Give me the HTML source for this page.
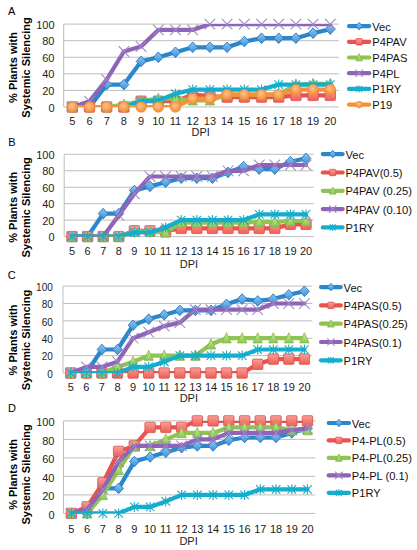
<!DOCTYPE html>
<html><head><meta charset="utf-8"><style>html,body{margin:0;padding:0;background:#fff;width:417px;height:550px;overflow:hidden}svg{display:block}</style></head>
<body><svg width="417" height="550" viewBox="0 0 417 550">
<rect width="417" height="550" fill="#fff"/>
<defs><linearGradient id="g_blue" x1="0" y1="0" x2="0" y2="1"><stop offset="0" stop-color="#8cc6f3"/><stop offset="1" stop-color="#3d92d8"/></linearGradient><radialGradient id="r_blue" cx="0.45" cy="0.4" r="0.6"><stop offset="0" stop-color="#8cc6f3"/><stop offset="1" stop-color="#3d92d8"/></radialGradient><linearGradient id="g_red" x1="0" y1="0" x2="0" y2="1"><stop offset="0" stop-color="#f8a09a"/><stop offset="1" stop-color="#ee5d55"/></linearGradient><radialGradient id="r_red" cx="0.45" cy="0.4" r="0.6"><stop offset="0" stop-color="#f8a09a"/><stop offset="1" stop-color="#ee5d55"/></radialGradient><linearGradient id="g_green" x1="0" y1="0" x2="0" y2="1"><stop offset="0" stop-color="#c9ec9c"/><stop offset="1" stop-color="#8dc652"/></linearGradient><radialGradient id="r_green" cx="0.45" cy="0.4" r="0.6"><stop offset="0" stop-color="#c9ec9c"/><stop offset="1" stop-color="#8dc652"/></radialGradient><linearGradient id="g_purple" x1="0" y1="0" x2="0" y2="1"><stop offset="0" stop-color="#a584c8"/><stop offset="1" stop-color="#8a5fb0"/></linearGradient><radialGradient id="r_purple" cx="0.45" cy="0.4" r="0.6"><stop offset="0" stop-color="#a584c8"/><stop offset="1" stop-color="#8a5fb0"/></radialGradient><linearGradient id="g_cyan" x1="0" y1="0" x2="0" y2="1"><stop offset="0" stop-color="#50c4dc"/><stop offset="1" stop-color="#14adcd"/></linearGradient><radialGradient id="r_cyan" cx="0.45" cy="0.4" r="0.6"><stop offset="0" stop-color="#50c4dc"/><stop offset="1" stop-color="#14adcd"/></radialGradient><linearGradient id="g_orange" x1="0" y1="0" x2="0" y2="1"><stop offset="0" stop-color="#fcc48c"/><stop offset="1" stop-color="#f58a32"/></linearGradient><radialGradient id="r_orange" cx="0.45" cy="0.4" r="0.6"><stop offset="0" stop-color="#fcc48c"/><stop offset="1" stop-color="#f58a32"/></radialGradient></defs>
<text x="8.0" y="14.5" font-size="11" font-family="Liberation Sans, sans-serif">A</text>
<g transform="translate(16.9,67.5) rotate(-90)"><text x="0" y="0" text-anchor="middle" font-size="11" font-weight="bold" font-family="Liberation Sans, sans-serif">% Plants with</text></g>
<g transform="translate(30.2,67.5) rotate(-90)"><text x="0" y="0" text-anchor="middle" font-size="11" font-weight="bold" font-family="Liberation Sans, sans-serif">Systemic Silencing</text></g>
<line x1="63.7" y1="107.00" x2="338.9" y2="107.00" stroke="#bdbdbd" stroke-width="1"/>
<text x="54.5" y="111.50" text-anchor="end" font-size="11" font-family="Liberation Sans, sans-serif" fill="#1c1c1c">0</text>
<line x1="63.7" y1="90.42" x2="338.9" y2="90.42" stroke="#bdbdbd" stroke-width="1"/>
<text x="54.5" y="94.92" text-anchor="end" font-size="11" font-family="Liberation Sans, sans-serif" fill="#1c1c1c">20</text>
<line x1="63.7" y1="73.84" x2="338.9" y2="73.84" stroke="#bdbdbd" stroke-width="1"/>
<text x="54.5" y="78.34" text-anchor="end" font-size="11" font-family="Liberation Sans, sans-serif" fill="#1c1c1c">40</text>
<line x1="63.7" y1="57.26" x2="338.9" y2="57.26" stroke="#bdbdbd" stroke-width="1"/>
<text x="54.5" y="61.76" text-anchor="end" font-size="11" font-family="Liberation Sans, sans-serif" fill="#1c1c1c">60</text>
<line x1="63.7" y1="40.68" x2="338.9" y2="40.68" stroke="#bdbdbd" stroke-width="1"/>
<text x="54.5" y="45.18" text-anchor="end" font-size="11" font-family="Liberation Sans, sans-serif" fill="#1c1c1c">80</text>
<line x1="63.7" y1="24.10" x2="338.9" y2="24.10" stroke="#bdbdbd" stroke-width="1"/>
<text x="54.5" y="28.60" text-anchor="end" font-size="11" font-family="Liberation Sans, sans-serif" fill="#1c1c1c">100</text>
<line x1="63.7" y1="24.10" x2="63.7" y2="107.00" stroke="#bdbdbd" stroke-width="1"/>
<text x="72.3" y="125.4" text-anchor="middle" font-size="11" font-family="Liberation Sans, sans-serif" fill="#1c1c1c">5</text>
<text x="89.5" y="125.4" text-anchor="middle" font-size="11" font-family="Liberation Sans, sans-serif" fill="#1c1c1c">6</text>
<text x="106.7" y="125.4" text-anchor="middle" font-size="11" font-family="Liberation Sans, sans-serif" fill="#1c1c1c">7</text>
<text x="123.9" y="125.4" text-anchor="middle" font-size="11" font-family="Liberation Sans, sans-serif" fill="#1c1c1c">8</text>
<text x="141.1" y="125.4" text-anchor="middle" font-size="11" font-family="Liberation Sans, sans-serif" fill="#1c1c1c">9</text>
<text x="158.3" y="125.4" text-anchor="middle" font-size="11" font-family="Liberation Sans, sans-serif" fill="#1c1c1c">10</text>
<text x="175.5" y="125.4" text-anchor="middle" font-size="11" font-family="Liberation Sans, sans-serif" fill="#1c1c1c">11</text>
<text x="192.7" y="125.4" text-anchor="middle" font-size="11" font-family="Liberation Sans, sans-serif" fill="#1c1c1c">12</text>
<text x="209.9" y="125.4" text-anchor="middle" font-size="11" font-family="Liberation Sans, sans-serif" fill="#1c1c1c">13</text>
<text x="227.1" y="125.4" text-anchor="middle" font-size="11" font-family="Liberation Sans, sans-serif" fill="#1c1c1c">14</text>
<text x="244.3" y="125.4" text-anchor="middle" font-size="11" font-family="Liberation Sans, sans-serif" fill="#1c1c1c">15</text>
<text x="261.5" y="125.4" text-anchor="middle" font-size="11" font-family="Liberation Sans, sans-serif" fill="#1c1c1c">16</text>
<text x="278.7" y="125.4" text-anchor="middle" font-size="11" font-family="Liberation Sans, sans-serif" fill="#1c1c1c">17</text>
<text x="295.9" y="125.4" text-anchor="middle" font-size="11" font-family="Liberation Sans, sans-serif" fill="#1c1c1c">18</text>
<text x="313.1" y="125.4" text-anchor="middle" font-size="11" font-family="Liberation Sans, sans-serif" fill="#1c1c1c">19</text>
<text x="330.3" y="125.4" text-anchor="middle" font-size="11" font-family="Liberation Sans, sans-serif" fill="#1c1c1c">20</text>
<text x="200.7" y="135.7" text-anchor="middle" font-size="11" font-family="Liberation Sans, sans-serif" fill="#1c1c1c">DPI</text>
<clipPath id="clipA"><rect x="63.7" y="24.1" width="275.2" height="82.9"/></clipPath>
<polyline clip-path="url(#clipA)" points="72.3,107.0 89.5,107.0 106.7,84.6 123.9,84.6 141.1,61.4 158.3,57.3 175.5,52.3 192.7,47.3 209.9,47.3 227.1,47.3 244.3,41.5 261.5,38.2 278.7,38.2 295.9,38.2 313.1,33.2 330.3,29.1" fill="none" stroke="#2a87cb" stroke-width="4.2" stroke-linejoin="round" stroke-linecap="round"/>
<path d="M72.3 101.7L77.2 107.0L72.3 112.3L67.4 107.0Z" fill="url(#g_blue)" stroke="#2576bc" stroke-width="0.9"/>
<path d="M89.5 101.7L94.4 107.0L89.5 112.3L84.6 107.0Z" fill="url(#g_blue)" stroke="#2576bc" stroke-width="0.9"/>
<path d="M106.7 79.3L111.6 84.6L106.7 89.9L101.8 84.6Z" fill="url(#g_blue)" stroke="#2576bc" stroke-width="0.9"/>
<path d="M123.9 79.3L128.8 84.6L123.9 89.9L119.0 84.6Z" fill="url(#g_blue)" stroke="#2576bc" stroke-width="0.9"/>
<path d="M141.1 56.1L146.0 61.4L141.1 66.7L136.2 61.4Z" fill="url(#g_blue)" stroke="#2576bc" stroke-width="0.9"/>
<path d="M158.3 52.0L163.2 57.3L158.3 62.6L153.4 57.3Z" fill="url(#g_blue)" stroke="#2576bc" stroke-width="0.9"/>
<path d="M175.5 47.0L180.4 52.3L175.5 57.6L170.6 52.3Z" fill="url(#g_blue)" stroke="#2576bc" stroke-width="0.9"/>
<path d="M192.7 42.0L197.6 47.3L192.7 52.6L187.8 47.3Z" fill="url(#g_blue)" stroke="#2576bc" stroke-width="0.9"/>
<path d="M209.9 42.0L214.8 47.3L209.9 52.6L205.0 47.3Z" fill="url(#g_blue)" stroke="#2576bc" stroke-width="0.9"/>
<path d="M227.1 42.0L232.0 47.3L227.1 52.6L222.2 47.3Z" fill="url(#g_blue)" stroke="#2576bc" stroke-width="0.9"/>
<path d="M244.3 36.2L249.2 41.5L244.3 46.8L239.4 41.5Z" fill="url(#g_blue)" stroke="#2576bc" stroke-width="0.9"/>
<path d="M261.5 32.9L266.4 38.2L261.5 43.5L256.6 38.2Z" fill="url(#g_blue)" stroke="#2576bc" stroke-width="0.9"/>
<path d="M278.7 32.9L283.6 38.2L278.7 43.5L273.8 38.2Z" fill="url(#g_blue)" stroke="#2576bc" stroke-width="0.9"/>
<path d="M295.9 32.9L300.8 38.2L295.9 43.5L291.0 38.2Z" fill="url(#g_blue)" stroke="#2576bc" stroke-width="0.9"/>
<path d="M313.1 27.9L318.0 33.2L313.1 38.5L308.2 33.2Z" fill="url(#g_blue)" stroke="#2576bc" stroke-width="0.9"/>
<path d="M330.3 23.8L335.2 29.1L330.3 34.4L325.4 29.1Z" fill="url(#g_blue)" stroke="#2576bc" stroke-width="0.9"/>
<polyline clip-path="url(#clipA)" points="72.3,107.0 89.5,107.0 106.7,107.0 123.9,107.0 141.1,101.2 158.3,101.2 175.5,101.2 192.7,94.6 209.9,96.2 227.1,97.1 244.3,97.1 261.5,97.1 278.7,97.1 295.9,95.4 313.1,95.4 330.3,95.4" fill="none" stroke="#e8544d" stroke-width="4.2" stroke-linejoin="round" stroke-linecap="round"/>
<rect x="67.1" y="101.8" width="10.4" height="10.4" rx="1" fill="url(#g_red)" stroke="#e04d47" stroke-width="0.8"/>
<rect x="84.3" y="101.8" width="10.4" height="10.4" rx="1" fill="url(#g_red)" stroke="#e04d47" stroke-width="0.8"/>
<rect x="101.5" y="101.8" width="10.4" height="10.4" rx="1" fill="url(#g_red)" stroke="#e04d47" stroke-width="0.8"/>
<rect x="118.7" y="101.8" width="10.4" height="10.4" rx="1" fill="url(#g_red)" stroke="#e04d47" stroke-width="0.8"/>
<rect x="135.9" y="96.0" width="10.4" height="10.4" rx="1" fill="url(#g_red)" stroke="#e04d47" stroke-width="0.8"/>
<rect x="153.1" y="96.0" width="10.4" height="10.4" rx="1" fill="url(#g_red)" stroke="#e04d47" stroke-width="0.8"/>
<rect x="170.3" y="96.0" width="10.4" height="10.4" rx="1" fill="url(#g_red)" stroke="#e04d47" stroke-width="0.8"/>
<rect x="187.5" y="89.4" width="10.4" height="10.4" rx="1" fill="url(#g_red)" stroke="#e04d47" stroke-width="0.8"/>
<rect x="204.7" y="91.0" width="10.4" height="10.4" rx="1" fill="url(#g_red)" stroke="#e04d47" stroke-width="0.8"/>
<rect x="221.9" y="91.9" width="10.4" height="10.4" rx="1" fill="url(#g_red)" stroke="#e04d47" stroke-width="0.8"/>
<rect x="239.1" y="91.9" width="10.4" height="10.4" rx="1" fill="url(#g_red)" stroke="#e04d47" stroke-width="0.8"/>
<rect x="256.3" y="91.9" width="10.4" height="10.4" rx="1" fill="url(#g_red)" stroke="#e04d47" stroke-width="0.8"/>
<rect x="273.5" y="91.9" width="10.4" height="10.4" rx="1" fill="url(#g_red)" stroke="#e04d47" stroke-width="0.8"/>
<rect x="290.7" y="90.2" width="10.4" height="10.4" rx="1" fill="url(#g_red)" stroke="#e04d47" stroke-width="0.8"/>
<rect x="307.9" y="90.2" width="10.4" height="10.4" rx="1" fill="url(#g_red)" stroke="#e04d47" stroke-width="0.8"/>
<rect x="325.1" y="90.2" width="10.4" height="10.4" rx="1" fill="url(#g_red)" stroke="#e04d47" stroke-width="0.8"/>
<polyline clip-path="url(#clipA)" points="72.3,107.0 89.5,107.0 106.7,107.0 123.9,104.5 141.1,101.2 158.3,98.7 175.5,98.7 192.7,100.4 209.9,100.4 227.1,94.6 244.3,94.6 261.5,94.6 278.7,94.6 295.9,84.6 313.1,83.8 330.3,83.8" fill="none" stroke="#8fc453" stroke-width="4.2" stroke-linejoin="round" stroke-linecap="round"/>
<path d="M72.3 101.5L77.0 111.7L67.6 111.7Z" fill="url(#g_green)" stroke="#80b847" stroke-width="0.8"/>
<path d="M89.5 101.5L94.2 111.7L84.8 111.7Z" fill="url(#g_green)" stroke="#80b847" stroke-width="0.8"/>
<path d="M106.7 101.5L111.4 111.7L102.0 111.7Z" fill="url(#g_green)" stroke="#80b847" stroke-width="0.8"/>
<path d="M123.9 99.0L128.6 109.2L119.2 109.2Z" fill="url(#g_green)" stroke="#80b847" stroke-width="0.8"/>
<path d="M141.1 95.7L145.8 105.9L136.4 105.9Z" fill="url(#g_green)" stroke="#80b847" stroke-width="0.8"/>
<path d="M158.3 93.2L163.0 103.4L153.6 103.4Z" fill="url(#g_green)" stroke="#80b847" stroke-width="0.8"/>
<path d="M175.5 93.2L180.2 103.4L170.8 103.4Z" fill="url(#g_green)" stroke="#80b847" stroke-width="0.8"/>
<path d="M192.7 94.9L197.4 105.0L188.0 105.0Z" fill="url(#g_green)" stroke="#80b847" stroke-width="0.8"/>
<path d="M209.9 94.9L214.6 105.0L205.2 105.0Z" fill="url(#g_green)" stroke="#80b847" stroke-width="0.8"/>
<path d="M227.1 89.1L231.8 99.2L222.4 99.2Z" fill="url(#g_green)" stroke="#80b847" stroke-width="0.8"/>
<path d="M244.3 89.1L249.0 99.2L239.6 99.2Z" fill="url(#g_green)" stroke="#80b847" stroke-width="0.8"/>
<path d="M261.5 89.1L266.2 99.2L256.8 99.2Z" fill="url(#g_green)" stroke="#80b847" stroke-width="0.8"/>
<path d="M278.7 89.1L283.4 99.2L274.0 99.2Z" fill="url(#g_green)" stroke="#80b847" stroke-width="0.8"/>
<path d="M295.9 79.1L300.6 89.3L291.2 89.3Z" fill="url(#g_green)" stroke="#80b847" stroke-width="0.8"/>
<path d="M313.1 78.3L317.8 88.5L308.4 88.5Z" fill="url(#g_green)" stroke="#80b847" stroke-width="0.8"/>
<path d="M330.3 78.3L335.0 88.5L325.6 88.5Z" fill="url(#g_green)" stroke="#80b847" stroke-width="0.8"/>
<polyline clip-path="url(#clipA)" points="72.3,107.0 89.5,101.2 106.7,79.6 123.9,51.5 141.1,46.5 158.3,29.9 175.5,29.9 192.7,29.9 209.9,24.1 227.1,24.1 244.3,24.1 261.5,24.1 278.7,24.1 295.9,24.1 313.1,24.1 330.3,24.1" fill="none" stroke="#8e64b6" stroke-width="4.2" stroke-linejoin="round" stroke-linecap="round"/>
<path d="M67.0 101.7L77.6 112.3M77.6 101.7L67.0 112.3" stroke="#9e86c6" stroke-width="1.05" fill="none"/>
<path d="M84.2 95.9L94.8 106.5M94.8 95.9L84.2 106.5" stroke="#9e86c6" stroke-width="1.05" fill="none"/>
<path d="M101.4 74.3L112.0 84.9M112.0 74.3L101.4 84.9" stroke="#9e86c6" stroke-width="1.05" fill="none"/>
<path d="M118.6 46.2L129.2 56.8M129.2 46.2L118.6 56.8" stroke="#9e86c6" stroke-width="1.05" fill="none"/>
<path d="M135.8 41.2L146.4 51.8M146.4 41.2L135.8 51.8" stroke="#9e86c6" stroke-width="1.05" fill="none"/>
<path d="M153.0 24.6L163.6 35.2M163.6 24.6L153.0 35.2" stroke="#9e86c6" stroke-width="1.05" fill="none"/>
<path d="M170.2 24.6L180.8 35.2M180.8 24.6L170.2 35.2" stroke="#9e86c6" stroke-width="1.05" fill="none"/>
<path d="M187.4 24.6L198.0 35.2M198.0 24.6L187.4 35.2" stroke="#9e86c6" stroke-width="1.05" fill="none"/>
<path d="M204.6 18.8L215.2 29.4M215.2 18.8L204.6 29.4" stroke="#9e86c6" stroke-width="1.05" fill="none"/>
<path d="M221.8 18.8L232.4 29.4M232.4 18.8L221.8 29.4" stroke="#9e86c6" stroke-width="1.05" fill="none"/>
<path d="M239.0 18.8L249.6 29.4M249.6 18.8L239.0 29.4" stroke="#9e86c6" stroke-width="1.05" fill="none"/>
<path d="M256.2 18.8L266.8 29.4M266.8 18.8L256.2 29.4" stroke="#9e86c6" stroke-width="1.05" fill="none"/>
<path d="M273.4 18.8L284.0 29.4M284.0 18.8L273.4 29.4" stroke="#9e86c6" stroke-width="1.05" fill="none"/>
<path d="M290.6 18.8L301.2 29.4M301.2 18.8L290.6 29.4" stroke="#9e86c6" stroke-width="1.05" fill="none"/>
<path d="M307.8 18.8L318.4 29.4M318.4 18.8L307.8 29.4" stroke="#9e86c6" stroke-width="1.05" fill="none"/>
<path d="M325.0 18.8L335.6 29.4M335.6 18.8L325.0 29.4" stroke="#9e86c6" stroke-width="1.05" fill="none"/>
<polyline clip-path="url(#clipA)" points="72.3,107.0 89.5,107.0 106.7,107.0 123.9,107.0 141.1,101.2 158.3,100.4 175.5,93.7 192.7,89.6 209.9,89.6 227.1,89.6 244.3,89.6 261.5,89.6 278.7,84.6 295.9,84.6 313.1,84.6 330.3,84.6" fill="none" stroke="#14adcd" stroke-width="4.2" stroke-linejoin="round" stroke-linecap="round"/>
<path d="M68.0 102.8L76.5 111.2M76.5 102.8L68.0 111.2M72.3 102.0L72.3 112.0" stroke="#17acca" stroke-width="1.1" fill="none"/>
<path d="M85.2 102.8L93.8 111.2M93.8 102.8L85.2 111.2M89.5 102.0L89.5 112.0" stroke="#17acca" stroke-width="1.1" fill="none"/>
<path d="M102.5 102.8L111.0 111.2M111.0 102.8L102.5 111.2M106.7 102.0L106.7 112.0" stroke="#17acca" stroke-width="1.1" fill="none"/>
<path d="M119.7 102.8L128.2 111.2M128.2 102.8L119.7 111.2M123.9 102.0L123.9 112.0" stroke="#17acca" stroke-width="1.1" fill="none"/>
<path d="M136.8 96.9L145.3 105.4M145.3 96.9L136.8 105.4M141.1 96.2L141.1 106.2" stroke="#17acca" stroke-width="1.1" fill="none"/>
<path d="M154.1 96.1L162.6 104.6M162.6 96.1L154.1 104.6M158.3 95.4L158.3 105.4" stroke="#17acca" stroke-width="1.1" fill="none"/>
<path d="M171.2 89.5L179.8 98.0M179.8 89.5L171.2 98.0M175.5 88.7L175.5 98.7" stroke="#17acca" stroke-width="1.1" fill="none"/>
<path d="M188.4 85.3L196.9 93.8M196.9 85.3L188.4 93.8M192.7 84.6L192.7 94.6" stroke="#17acca" stroke-width="1.1" fill="none"/>
<path d="M205.6 85.3L214.1 93.8M214.1 85.3L205.6 93.8M209.9 84.6L209.9 94.6" stroke="#17acca" stroke-width="1.1" fill="none"/>
<path d="M222.9 85.3L231.4 93.8M231.4 85.3L222.9 93.8M227.1 84.6L227.1 94.6" stroke="#17acca" stroke-width="1.1" fill="none"/>
<path d="M240.1 85.3L248.6 93.8M248.6 85.3L240.1 93.8M244.3 84.6L244.3 94.6" stroke="#17acca" stroke-width="1.1" fill="none"/>
<path d="M257.2 85.3L265.8 93.8M265.8 85.3L257.2 93.8M261.5 84.6L261.5 94.6" stroke="#17acca" stroke-width="1.1" fill="none"/>
<path d="M274.4 80.4L282.9 88.9M282.9 80.4L274.4 88.9M278.7 79.6L278.7 89.6" stroke="#17acca" stroke-width="1.1" fill="none"/>
<path d="M291.6 80.4L300.1 88.9M300.1 80.4L291.6 88.9M295.9 79.6L295.9 89.6" stroke="#17acca" stroke-width="1.1" fill="none"/>
<path d="M308.8 80.4L317.3 88.9M317.3 80.4L308.8 88.9M313.1 79.6L313.1 89.6" stroke="#17acca" stroke-width="1.1" fill="none"/>
<path d="M326.0 80.4L334.5 88.9M334.5 80.4L326.0 88.9M330.3 79.6L330.3 89.6" stroke="#17acca" stroke-width="1.1" fill="none"/>
<polyline clip-path="url(#clipA)" points="72.3,107.0 89.5,107.0 106.7,107.0 123.9,107.0 141.1,107.0 158.3,107.0 175.5,107.0 192.7,98.7 209.9,98.7 227.1,94.6 244.3,94.6 261.5,94.6 278.7,94.6 295.9,89.6 313.1,89.6 330.3,89.6" fill="none" stroke="#f7903a" stroke-width="4.2" stroke-linejoin="round" stroke-linecap="round"/>
<circle cx="72.3" cy="107.0" r="5.3" fill="url(#r_orange)" stroke="#ee8a33" stroke-width="0.6"/>
<circle cx="89.5" cy="107.0" r="5.3" fill="url(#r_orange)" stroke="#ee8a33" stroke-width="0.6"/>
<circle cx="106.7" cy="107.0" r="5.3" fill="url(#r_orange)" stroke="#ee8a33" stroke-width="0.6"/>
<circle cx="123.9" cy="107.0" r="5.3" fill="url(#r_orange)" stroke="#ee8a33" stroke-width="0.6"/>
<circle cx="141.1" cy="107.0" r="5.3" fill="url(#r_orange)" stroke="#ee8a33" stroke-width="0.6"/>
<circle cx="158.3" cy="107.0" r="5.3" fill="url(#r_orange)" stroke="#ee8a33" stroke-width="0.6"/>
<circle cx="175.5" cy="107.0" r="5.3" fill="url(#r_orange)" stroke="#ee8a33" stroke-width="0.6"/>
<circle cx="192.7" cy="98.7" r="5.3" fill="url(#r_orange)" stroke="#ee8a33" stroke-width="0.6"/>
<circle cx="209.9" cy="98.7" r="5.3" fill="url(#r_orange)" stroke="#ee8a33" stroke-width="0.6"/>
<circle cx="227.1" cy="94.6" r="5.3" fill="url(#r_orange)" stroke="#ee8a33" stroke-width="0.6"/>
<circle cx="244.3" cy="94.6" r="5.3" fill="url(#r_orange)" stroke="#ee8a33" stroke-width="0.6"/>
<circle cx="261.5" cy="94.6" r="5.3" fill="url(#r_orange)" stroke="#ee8a33" stroke-width="0.6"/>
<circle cx="278.7" cy="94.6" r="5.3" fill="url(#r_orange)" stroke="#ee8a33" stroke-width="0.6"/>
<circle cx="295.9" cy="89.6" r="5.3" fill="url(#r_orange)" stroke="#ee8a33" stroke-width="0.6"/>
<circle cx="313.1" cy="89.6" r="5.3" fill="url(#r_orange)" stroke="#ee8a33" stroke-width="0.6"/>
<circle cx="330.3" cy="89.6" r="5.3" fill="url(#r_orange)" stroke="#ee8a33" stroke-width="0.6"/>
<line x1="349" y1="26.1" x2="369.3" y2="26.1" stroke="#2a87cb" stroke-width="4.2" stroke-linecap="round"/>
<path d="M359.1 22.4L362.6 26.1L359.1 29.8L355.7 26.1Z" fill="url(#g_blue)" stroke="#2576bc" stroke-width="0.9"/>
<text x="372.3" y="30.6" font-size="11.15" font-family="Liberation Sans, sans-serif" fill="#111">Vec</text>
<line x1="349" y1="41.8" x2="369.3" y2="41.8" stroke="#e8544d" stroke-width="4.2" stroke-linecap="round"/>
<rect x="355.9" y="38.6" width="6.4" height="6.4" rx="1" fill="url(#g_red)" stroke="#e04d47" stroke-width="0.8"/>
<text x="372.3" y="46.3" font-size="11.15" font-family="Liberation Sans, sans-serif" fill="#111">P4PAV</text>
<line x1="349" y1="57.5" x2="369.3" y2="57.5" stroke="#8fc453" stroke-width="4.2" stroke-linecap="round"/>
<path d="M359.1 53.6L362.4 60.8L355.9 60.8Z" fill="url(#g_green)" stroke="#80b847" stroke-width="0.8"/>
<text x="372.3" y="62.0" font-size="11.15" font-family="Liberation Sans, sans-serif" fill="#111">P4PAS</text>
<line x1="349" y1="73.2" x2="369.3" y2="73.2" stroke="#8e64b6" stroke-width="4.2" stroke-linecap="round"/>
<path d="M355.4 69.5L362.9 76.9M362.9 69.5L355.4 76.9" stroke="#9e86c6" stroke-width="1.05" fill="none"/>
<text x="372.3" y="77.7" font-size="11.15" font-family="Liberation Sans, sans-serif" fill="#111">P4PL</text>
<line x1="349" y1="88.9" x2="369.3" y2="88.9" stroke="#14adcd" stroke-width="4.2" stroke-linecap="round"/>
<path d="M356.2 85.9L362.1 91.9M362.1 85.9L356.2 91.9M359.1 85.4L359.1 92.4" stroke="#17acca" stroke-width="1.1" fill="none"/>
<text x="372.3" y="93.4" font-size="11.15" font-family="Liberation Sans, sans-serif" fill="#111">P1RY</text>
<line x1="349" y1="104.6" x2="369.3" y2="104.6" stroke="#f7903a" stroke-width="4.2" stroke-linecap="round"/>
<circle cx="359.1" cy="104.6" r="3.3" fill="url(#r_orange)" stroke="#ee8a33" stroke-width="0.6"/>
<text x="372.3" y="109.1" font-size="11.15" font-family="Liberation Sans, sans-serif" fill="#111">P19</text>
<text x="8.2" y="146.3" font-size="11" font-family="Liberation Sans, sans-serif">B</text>
<g transform="translate(16.9,207.3) rotate(-90)"><text x="0" y="0" text-anchor="middle" font-size="11" font-weight="bold" font-family="Liberation Sans, sans-serif">% Plants with</text></g>
<g transform="translate(30.2,207.3) rotate(-90)"><text x="0" y="0" text-anchor="middle" font-size="11" font-weight="bold" font-family="Liberation Sans, sans-serif">Systemic Silencing</text></g>
<line x1="64.2" y1="236.60" x2="313.8" y2="236.60" stroke="#bdbdbd" stroke-width="1"/>
<text x="54.5" y="241.10" text-anchor="end" font-size="11" font-family="Liberation Sans, sans-serif" fill="#1c1c1c">0</text>
<line x1="64.2" y1="220.14" x2="313.8" y2="220.14" stroke="#bdbdbd" stroke-width="1"/>
<text x="54.5" y="224.64" text-anchor="end" font-size="11" font-family="Liberation Sans, sans-serif" fill="#1c1c1c">20</text>
<line x1="64.2" y1="203.68" x2="313.8" y2="203.68" stroke="#bdbdbd" stroke-width="1"/>
<text x="54.5" y="208.18" text-anchor="end" font-size="11" font-family="Liberation Sans, sans-serif" fill="#1c1c1c">40</text>
<line x1="64.2" y1="187.22" x2="313.8" y2="187.22" stroke="#bdbdbd" stroke-width="1"/>
<text x="54.5" y="191.72" text-anchor="end" font-size="11" font-family="Liberation Sans, sans-serif" fill="#1c1c1c">60</text>
<line x1="64.2" y1="170.76" x2="313.8" y2="170.76" stroke="#bdbdbd" stroke-width="1"/>
<text x="54.5" y="175.26" text-anchor="end" font-size="11" font-family="Liberation Sans, sans-serif" fill="#1c1c1c">80</text>
<line x1="64.2" y1="154.30" x2="313.8" y2="154.30" stroke="#bdbdbd" stroke-width="1"/>
<text x="54.5" y="158.80" text-anchor="end" font-size="11" font-family="Liberation Sans, sans-serif" fill="#1c1c1c">100</text>
<line x1="64.2" y1="154.30" x2="64.2" y2="236.60" stroke="#bdbdbd" stroke-width="1"/>
<text x="72.0" y="255.4" text-anchor="middle" font-size="11" font-family="Liberation Sans, sans-serif" fill="#1c1c1c">5</text>
<text x="87.6" y="255.4" text-anchor="middle" font-size="11" font-family="Liberation Sans, sans-serif" fill="#1c1c1c">6</text>
<text x="103.2" y="255.4" text-anchor="middle" font-size="11" font-family="Liberation Sans, sans-serif" fill="#1c1c1c">7</text>
<text x="118.8" y="255.4" text-anchor="middle" font-size="11" font-family="Liberation Sans, sans-serif" fill="#1c1c1c">8</text>
<text x="134.4" y="255.4" text-anchor="middle" font-size="11" font-family="Liberation Sans, sans-serif" fill="#1c1c1c">9</text>
<text x="150.0" y="255.4" text-anchor="middle" font-size="11" font-family="Liberation Sans, sans-serif" fill="#1c1c1c">10</text>
<text x="165.6" y="255.4" text-anchor="middle" font-size="11" font-family="Liberation Sans, sans-serif" fill="#1c1c1c">11</text>
<text x="181.2" y="255.4" text-anchor="middle" font-size="11" font-family="Liberation Sans, sans-serif" fill="#1c1c1c">12</text>
<text x="196.8" y="255.4" text-anchor="middle" font-size="11" font-family="Liberation Sans, sans-serif" fill="#1c1c1c">13</text>
<text x="212.4" y="255.4" text-anchor="middle" font-size="11" font-family="Liberation Sans, sans-serif" fill="#1c1c1c">14</text>
<text x="228.0" y="255.4" text-anchor="middle" font-size="11" font-family="Liberation Sans, sans-serif" fill="#1c1c1c">15</text>
<text x="243.6" y="255.4" text-anchor="middle" font-size="11" font-family="Liberation Sans, sans-serif" fill="#1c1c1c">16</text>
<text x="259.2" y="255.4" text-anchor="middle" font-size="11" font-family="Liberation Sans, sans-serif" fill="#1c1c1c">17</text>
<text x="274.8" y="255.4" text-anchor="middle" font-size="11" font-family="Liberation Sans, sans-serif" fill="#1c1c1c">18</text>
<text x="290.4" y="255.4" text-anchor="middle" font-size="11" font-family="Liberation Sans, sans-serif" fill="#1c1c1c">19</text>
<text x="306.0" y="255.4" text-anchor="middle" font-size="11" font-family="Liberation Sans, sans-serif" fill="#1c1c1c">20</text>
<text x="188.9" y="268.2" text-anchor="middle" font-size="11" font-family="Liberation Sans, sans-serif" fill="#1c1c1c">DPI</text>
<clipPath id="clipB"><rect x="64.2" y="154.3" width="249.6" height="82.3"/></clipPath>
<polyline clip-path="url(#clipB)" points="72.0,236.6 87.6,236.6 103.2,213.6 118.8,213.6 134.4,190.5 150.0,186.4 165.6,182.3 181.2,178.2 196.8,178.2 212.4,178.2 228.0,172.4 243.6,166.6 259.2,169.1 274.8,169.1 290.4,161.7 306.0,158.4" fill="none" stroke="#2a87cb" stroke-width="4.2" stroke-linejoin="round" stroke-linecap="round"/>
<path d="M72.0 231.3L76.9 236.6L72.0 241.9L67.1 236.6Z" fill="url(#g_blue)" stroke="#2576bc" stroke-width="0.9"/>
<path d="M87.6 231.3L92.5 236.6L87.6 241.9L82.7 236.6Z" fill="url(#g_blue)" stroke="#2576bc" stroke-width="0.9"/>
<path d="M103.2 208.3L108.1 213.6L103.2 218.9L98.3 213.6Z" fill="url(#g_blue)" stroke="#2576bc" stroke-width="0.9"/>
<path d="M118.8 208.3L123.7 213.6L118.8 218.9L113.9 213.6Z" fill="url(#g_blue)" stroke="#2576bc" stroke-width="0.9"/>
<path d="M134.4 185.2L139.3 190.5L134.4 195.8L129.5 190.5Z" fill="url(#g_blue)" stroke="#2576bc" stroke-width="0.9"/>
<path d="M150.0 181.1L154.9 186.4L150.0 191.7L145.1 186.4Z" fill="url(#g_blue)" stroke="#2576bc" stroke-width="0.9"/>
<path d="M165.6 177.0L170.5 182.3L165.6 187.6L160.7 182.3Z" fill="url(#g_blue)" stroke="#2576bc" stroke-width="0.9"/>
<path d="M181.2 172.9L186.1 178.2L181.2 183.5L176.3 178.2Z" fill="url(#g_blue)" stroke="#2576bc" stroke-width="0.9"/>
<path d="M196.8 172.9L201.7 178.2L196.8 183.5L191.9 178.2Z" fill="url(#g_blue)" stroke="#2576bc" stroke-width="0.9"/>
<path d="M212.4 172.9L217.3 178.2L212.4 183.5L207.5 178.2Z" fill="url(#g_blue)" stroke="#2576bc" stroke-width="0.9"/>
<path d="M228.0 167.1L232.9 172.4L228.0 177.7L223.1 172.4Z" fill="url(#g_blue)" stroke="#2576bc" stroke-width="0.9"/>
<path d="M243.6 161.3L248.5 166.6L243.6 171.9L238.7 166.6Z" fill="url(#g_blue)" stroke="#2576bc" stroke-width="0.9"/>
<path d="M259.2 163.8L264.1 169.1L259.2 174.4L254.3 169.1Z" fill="url(#g_blue)" stroke="#2576bc" stroke-width="0.9"/>
<path d="M274.8 163.8L279.7 169.1L274.8 174.4L269.9 169.1Z" fill="url(#g_blue)" stroke="#2576bc" stroke-width="0.9"/>
<path d="M290.4 156.4L295.3 161.7L290.4 167.0L285.5 161.7Z" fill="url(#g_blue)" stroke="#2576bc" stroke-width="0.9"/>
<path d="M306.0 153.1L310.9 158.4L306.0 163.7L301.1 158.4Z" fill="url(#g_blue)" stroke="#2576bc" stroke-width="0.9"/>
<polyline clip-path="url(#clipB)" points="72.0,236.6 87.6,236.6 103.2,236.6 118.8,236.6 134.4,230.8 150.0,230.8 165.6,230.8 181.2,228.4 196.8,228.4 212.4,228.4 228.0,228.4 243.6,228.4 259.2,228.4 274.8,228.4 290.4,224.3 306.0,224.3" fill="none" stroke="#e8544d" stroke-width="4.2" stroke-linejoin="round" stroke-linecap="round"/>
<rect x="66.8" y="231.4" width="10.4" height="10.4" rx="1" fill="url(#g_red)" stroke="#e04d47" stroke-width="0.8"/>
<rect x="82.4" y="231.4" width="10.4" height="10.4" rx="1" fill="url(#g_red)" stroke="#e04d47" stroke-width="0.8"/>
<rect x="98.0" y="231.4" width="10.4" height="10.4" rx="1" fill="url(#g_red)" stroke="#e04d47" stroke-width="0.8"/>
<rect x="113.6" y="231.4" width="10.4" height="10.4" rx="1" fill="url(#g_red)" stroke="#e04d47" stroke-width="0.8"/>
<rect x="129.2" y="225.6" width="10.4" height="10.4" rx="1" fill="url(#g_red)" stroke="#e04d47" stroke-width="0.8"/>
<rect x="144.8" y="225.6" width="10.4" height="10.4" rx="1" fill="url(#g_red)" stroke="#e04d47" stroke-width="0.8"/>
<rect x="160.4" y="225.6" width="10.4" height="10.4" rx="1" fill="url(#g_red)" stroke="#e04d47" stroke-width="0.8"/>
<rect x="176.0" y="223.2" width="10.4" height="10.4" rx="1" fill="url(#g_red)" stroke="#e04d47" stroke-width="0.8"/>
<rect x="191.6" y="223.2" width="10.4" height="10.4" rx="1" fill="url(#g_red)" stroke="#e04d47" stroke-width="0.8"/>
<rect x="207.2" y="223.2" width="10.4" height="10.4" rx="1" fill="url(#g_red)" stroke="#e04d47" stroke-width="0.8"/>
<rect x="222.8" y="223.2" width="10.4" height="10.4" rx="1" fill="url(#g_red)" stroke="#e04d47" stroke-width="0.8"/>
<rect x="238.4" y="223.2" width="10.4" height="10.4" rx="1" fill="url(#g_red)" stroke="#e04d47" stroke-width="0.8"/>
<rect x="254.0" y="223.2" width="10.4" height="10.4" rx="1" fill="url(#g_red)" stroke="#e04d47" stroke-width="0.8"/>
<rect x="269.6" y="223.2" width="10.4" height="10.4" rx="1" fill="url(#g_red)" stroke="#e04d47" stroke-width="0.8"/>
<rect x="285.2" y="219.1" width="10.4" height="10.4" rx="1" fill="url(#g_red)" stroke="#e04d47" stroke-width="0.8"/>
<rect x="300.8" y="219.1" width="10.4" height="10.4" rx="1" fill="url(#g_red)" stroke="#e04d47" stroke-width="0.8"/>
<polyline clip-path="url(#clipB)" points="72.0,236.6 87.6,236.6 103.2,236.6 118.8,236.6 134.4,231.7 150.0,231.7 165.6,232.5 181.2,222.6 196.8,222.6 212.4,222.6 228.0,222.6 243.6,222.6 259.2,221.8 274.8,221.8 290.4,221.0 306.0,221.0" fill="none" stroke="#8fc453" stroke-width="4.2" stroke-linejoin="round" stroke-linecap="round"/>
<path d="M72.0 231.1L76.7 241.3L67.3 241.3Z" fill="url(#g_green)" stroke="#80b847" stroke-width="0.8"/>
<path d="M87.6 231.1L92.3 241.3L82.9 241.3Z" fill="url(#g_green)" stroke="#80b847" stroke-width="0.8"/>
<path d="M103.2 231.1L107.9 241.3L98.5 241.3Z" fill="url(#g_green)" stroke="#80b847" stroke-width="0.8"/>
<path d="M118.8 231.1L123.5 241.3L114.1 241.3Z" fill="url(#g_green)" stroke="#80b847" stroke-width="0.8"/>
<path d="M134.4 226.2L139.1 236.3L129.7 236.3Z" fill="url(#g_green)" stroke="#80b847" stroke-width="0.8"/>
<path d="M150.0 226.2L154.7 236.3L145.3 236.3Z" fill="url(#g_green)" stroke="#80b847" stroke-width="0.8"/>
<path d="M165.6 227.0L170.3 237.2L160.9 237.2Z" fill="url(#g_green)" stroke="#80b847" stroke-width="0.8"/>
<path d="M181.2 217.1L185.9 227.3L176.5 227.3Z" fill="url(#g_green)" stroke="#80b847" stroke-width="0.8"/>
<path d="M196.8 217.1L201.5 227.3L192.1 227.3Z" fill="url(#g_green)" stroke="#80b847" stroke-width="0.8"/>
<path d="M212.4 217.1L217.1 227.3L207.7 227.3Z" fill="url(#g_green)" stroke="#80b847" stroke-width="0.8"/>
<path d="M228.0 217.1L232.7 227.3L223.3 227.3Z" fill="url(#g_green)" stroke="#80b847" stroke-width="0.8"/>
<path d="M243.6 217.1L248.3 227.3L238.9 227.3Z" fill="url(#g_green)" stroke="#80b847" stroke-width="0.8"/>
<path d="M259.2 216.3L263.9 226.5L254.5 226.5Z" fill="url(#g_green)" stroke="#80b847" stroke-width="0.8"/>
<path d="M274.8 216.3L279.5 226.5L270.1 226.5Z" fill="url(#g_green)" stroke="#80b847" stroke-width="0.8"/>
<path d="M290.4 215.5L295.1 225.6L285.7 225.6Z" fill="url(#g_green)" stroke="#80b847" stroke-width="0.8"/>
<path d="M306.0 215.5L310.7 225.6L301.3 225.6Z" fill="url(#g_green)" stroke="#80b847" stroke-width="0.8"/>
<polyline clip-path="url(#clipB)" points="72.0,236.6 87.6,236.6 103.2,236.6 118.8,215.2 134.4,193.8 150.0,176.5 165.6,176.5 181.2,176.5 196.8,176.5 212.4,176.5 228.0,170.8 243.6,170.8 259.2,165.0 274.8,165.0 290.4,165.0 306.0,165.0" fill="none" stroke="#8e64b6" stroke-width="4.2" stroke-linejoin="round" stroke-linecap="round"/>
<path d="M66.7 231.3L77.3 241.9M77.3 231.3L66.7 241.9" stroke="#9e86c6" stroke-width="1.05" fill="none"/>
<path d="M82.3 231.3L92.9 241.9M92.9 231.3L82.3 241.9" stroke="#9e86c6" stroke-width="1.05" fill="none"/>
<path d="M97.9 231.3L108.5 241.9M108.5 231.3L97.9 241.9" stroke="#9e86c6" stroke-width="1.05" fill="none"/>
<path d="M113.5 209.9L124.1 220.5M124.1 209.9L113.5 220.5" stroke="#9e86c6" stroke-width="1.05" fill="none"/>
<path d="M129.1 188.5L139.7 199.1M139.7 188.5L129.1 199.1" stroke="#9e86c6" stroke-width="1.05" fill="none"/>
<path d="M144.7 171.2L155.3 181.8M155.3 171.2L144.7 181.8" stroke="#9e86c6" stroke-width="1.05" fill="none"/>
<path d="M160.3 171.2L170.9 181.8M170.9 171.2L160.3 181.8" stroke="#9e86c6" stroke-width="1.05" fill="none"/>
<path d="M175.9 171.2L186.5 181.8M186.5 171.2L175.9 181.8" stroke="#9e86c6" stroke-width="1.05" fill="none"/>
<path d="M191.5 171.2L202.1 181.8M202.1 171.2L191.5 181.8" stroke="#9e86c6" stroke-width="1.05" fill="none"/>
<path d="M207.1 171.2L217.7 181.8M217.7 171.2L207.1 181.8" stroke="#9e86c6" stroke-width="1.05" fill="none"/>
<path d="M222.7 165.5L233.3 176.1M233.3 165.5L222.7 176.1" stroke="#9e86c6" stroke-width="1.05" fill="none"/>
<path d="M238.3 165.5L248.9 176.1M248.9 165.5L238.3 176.1" stroke="#9e86c6" stroke-width="1.05" fill="none"/>
<path d="M253.9 159.7L264.5 170.3M264.5 159.7L253.9 170.3" stroke="#9e86c6" stroke-width="1.05" fill="none"/>
<path d="M269.5 159.7L280.1 170.3M280.1 159.7L269.5 170.3" stroke="#9e86c6" stroke-width="1.05" fill="none"/>
<path d="M285.1 159.7L295.7 170.3M295.7 159.7L285.1 170.3" stroke="#9e86c6" stroke-width="1.05" fill="none"/>
<path d="M300.7 159.7L311.3 170.3M311.3 159.7L300.7 170.3" stroke="#9e86c6" stroke-width="1.05" fill="none"/>
<polyline clip-path="url(#clipB)" points="72.0,236.6 87.6,236.6 103.2,236.6 118.8,236.6 134.4,232.5 150.0,232.5 165.6,227.5 181.2,220.1 196.8,220.1 212.4,220.1 228.0,220.1 243.6,220.1 259.2,214.4 274.8,214.4 290.4,214.4 306.0,214.4" fill="none" stroke="#14adcd" stroke-width="4.2" stroke-linejoin="round" stroke-linecap="round"/>
<path d="M67.8 232.3L76.2 240.8M76.2 232.3L67.8 240.8M72.0 231.6L72.0 241.6" stroke="#17acca" stroke-width="1.1" fill="none"/>
<path d="M83.4 232.3L91.9 240.8M91.9 232.3L83.4 240.8M87.6 231.6L87.6 241.6" stroke="#17acca" stroke-width="1.1" fill="none"/>
<path d="M99.0 232.3L107.5 240.8M107.5 232.3L99.0 240.8M103.2 231.6L103.2 241.6" stroke="#17acca" stroke-width="1.1" fill="none"/>
<path d="M114.6 232.3L123.1 240.8M123.1 232.3L114.6 240.8M118.8 231.6L118.8 241.6" stroke="#17acca" stroke-width="1.1" fill="none"/>
<path d="M130.2 228.2L138.7 236.7M138.7 228.2L130.2 236.7M134.4 227.5L134.4 237.5" stroke="#17acca" stroke-width="1.1" fill="none"/>
<path d="M145.8 228.2L154.2 236.7M154.2 228.2L145.8 236.7M150.0 227.5L150.0 237.5" stroke="#17acca" stroke-width="1.1" fill="none"/>
<path d="M161.4 223.3L169.9 231.8M169.9 223.3L161.4 231.8M165.6 222.5L165.6 232.5" stroke="#17acca" stroke-width="1.1" fill="none"/>
<path d="M177.0 215.9L185.5 224.4M185.5 215.9L177.0 224.4M181.2 215.1L181.2 225.1" stroke="#17acca" stroke-width="1.1" fill="none"/>
<path d="M192.6 215.9L201.1 224.4M201.1 215.9L192.6 224.4M196.8 215.1L196.8 225.1" stroke="#17acca" stroke-width="1.1" fill="none"/>
<path d="M208.2 215.9L216.7 224.4M216.7 215.9L208.2 224.4M212.4 215.1L212.4 225.1" stroke="#17acca" stroke-width="1.1" fill="none"/>
<path d="M223.8 215.9L232.2 224.4M232.2 215.9L223.8 224.4M228.0 215.1L228.0 225.1" stroke="#17acca" stroke-width="1.1" fill="none"/>
<path d="M239.4 215.9L247.9 224.4M247.9 215.9L239.4 224.4M243.6 215.1L243.6 225.1" stroke="#17acca" stroke-width="1.1" fill="none"/>
<path d="M255.0 210.1L263.5 218.6M263.5 210.1L255.0 218.6M259.2 209.4L259.2 219.4" stroke="#17acca" stroke-width="1.1" fill="none"/>
<path d="M270.6 210.1L279.1 218.6M279.1 210.1L270.6 218.6M274.8 209.4L274.8 219.4" stroke="#17acca" stroke-width="1.1" fill="none"/>
<path d="M286.2 210.1L294.7 218.6M294.7 210.1L286.2 218.6M290.4 209.4L290.4 219.4" stroke="#17acca" stroke-width="1.1" fill="none"/>
<path d="M301.8 210.1L310.2 218.6M310.2 210.1L301.8 218.6M306.0 209.4L306.0 219.4" stroke="#17acca" stroke-width="1.1" fill="none"/>
<line x1="322.8" y1="154.1" x2="342.6" y2="154.1" stroke="#2a87cb" stroke-width="4.2" stroke-linecap="round"/>
<path d="M332.7 150.4L336.1 154.1L332.7 157.8L329.3 154.1Z" fill="url(#g_blue)" stroke="#2576bc" stroke-width="0.9"/>
<text x="345.4" y="158.6" font-size="11.15" font-family="Liberation Sans, sans-serif" fill="#111">Vec</text>
<line x1="322.8" y1="172.5" x2="342.6" y2="172.5" stroke="#e8544d" stroke-width="4.2" stroke-linecap="round"/>
<rect x="329.5" y="169.3" width="6.4" height="6.4" rx="1" fill="url(#g_red)" stroke="#e04d47" stroke-width="0.8"/>
<text x="345.4" y="177.0" font-size="11.15" font-family="Liberation Sans, sans-serif" fill="#111">P4PAV(0.5)</text>
<line x1="322.8" y1="190.8" x2="342.6" y2="190.8" stroke="#8fc453" stroke-width="4.2" stroke-linecap="round"/>
<path d="M332.7 187.0L336.0 194.1L329.4 194.1Z" fill="url(#g_green)" stroke="#80b847" stroke-width="0.8"/>
<text x="345.4" y="195.3" font-size="11.15" font-family="Liberation Sans, sans-serif" fill="#111">P4PAV (0.25)</text>
<line x1="322.8" y1="209.1" x2="342.6" y2="209.1" stroke="#8e64b6" stroke-width="4.2" stroke-linecap="round"/>
<path d="M329.0 205.4L336.4 212.8M336.4 205.4L329.0 212.8" stroke="#9e86c6" stroke-width="1.05" fill="none"/>
<text x="345.4" y="213.6" font-size="11.15" font-family="Liberation Sans, sans-serif" fill="#111">P4PAV (0.10)</text>
<line x1="322.8" y1="227.4" x2="342.6" y2="227.4" stroke="#14adcd" stroke-width="4.2" stroke-linecap="round"/>
<path d="M329.7 224.4L335.7 230.4M335.7 224.4L329.7 230.4M332.7 223.9L332.7 230.9" stroke="#17acca" stroke-width="1.1" fill="none"/>
<text x="345.4" y="231.9" font-size="11.15" font-family="Liberation Sans, sans-serif" fill="#111">P1RY</text>
<text x="7.8" y="278.8" font-size="11" font-family="Liberation Sans, sans-serif">C</text>
<g transform="translate(16.9,340.0) rotate(-90)"><text x="0" y="0" text-anchor="middle" font-size="11" font-weight="bold" font-family="Liberation Sans, sans-serif">% Plants with</text></g>
<g transform="translate(30.2,340.0) rotate(-90)"><text x="0" y="0" text-anchor="middle" font-size="11" font-weight="bold" font-family="Liberation Sans, sans-serif">Systemic Silencing</text></g>
<line x1="63.0" y1="373.00" x2="312.2" y2="373.00" stroke="#bdbdbd" stroke-width="1"/>
<text x="52.8" y="377.80" text-anchor="end" font-size="10" font-family="Liberation Sans, sans-serif" fill="#1c1c1c">0</text>
<line x1="63.0" y1="355.62" x2="312.2" y2="355.62" stroke="#bdbdbd" stroke-width="1"/>
<text x="52.8" y="360.42" text-anchor="end" font-size="10" font-family="Liberation Sans, sans-serif" fill="#1c1c1c">20</text>
<line x1="63.0" y1="338.24" x2="312.2" y2="338.24" stroke="#bdbdbd" stroke-width="1"/>
<text x="52.8" y="343.04" text-anchor="end" font-size="10" font-family="Liberation Sans, sans-serif" fill="#1c1c1c">40</text>
<line x1="63.0" y1="320.86" x2="312.2" y2="320.86" stroke="#bdbdbd" stroke-width="1"/>
<text x="52.8" y="325.66" text-anchor="end" font-size="10" font-family="Liberation Sans, sans-serif" fill="#1c1c1c">60</text>
<line x1="63.0" y1="303.48" x2="312.2" y2="303.48" stroke="#bdbdbd" stroke-width="1"/>
<text x="52.8" y="308.28" text-anchor="end" font-size="10" font-family="Liberation Sans, sans-serif" fill="#1c1c1c">80</text>
<line x1="63.0" y1="286.10" x2="312.2" y2="286.10" stroke="#bdbdbd" stroke-width="1"/>
<text x="52.8" y="290.90" text-anchor="end" font-size="10" font-family="Liberation Sans, sans-serif" fill="#1c1c1c">100</text>
<line x1="63.0" y1="286.10" x2="63.0" y2="373.00" stroke="#bdbdbd" stroke-width="1"/>
<text x="70.8" y="390.5" text-anchor="middle" font-size="11" font-family="Liberation Sans, sans-serif" fill="#1c1c1c">5</text>
<text x="86.4" y="390.5" text-anchor="middle" font-size="11" font-family="Liberation Sans, sans-serif" fill="#1c1c1c">6</text>
<text x="101.9" y="390.5" text-anchor="middle" font-size="11" font-family="Liberation Sans, sans-serif" fill="#1c1c1c">7</text>
<text x="117.5" y="390.5" text-anchor="middle" font-size="11" font-family="Liberation Sans, sans-serif" fill="#1c1c1c">8</text>
<text x="133.1" y="390.5" text-anchor="middle" font-size="11" font-family="Liberation Sans, sans-serif" fill="#1c1c1c">9</text>
<text x="148.7" y="390.5" text-anchor="middle" font-size="11" font-family="Liberation Sans, sans-serif" fill="#1c1c1c">10</text>
<text x="164.2" y="390.5" text-anchor="middle" font-size="11" font-family="Liberation Sans, sans-serif" fill="#1c1c1c">11</text>
<text x="179.8" y="390.5" text-anchor="middle" font-size="11" font-family="Liberation Sans, sans-serif" fill="#1c1c1c">12</text>
<text x="195.4" y="390.5" text-anchor="middle" font-size="11" font-family="Liberation Sans, sans-serif" fill="#1c1c1c">13</text>
<text x="211.0" y="390.5" text-anchor="middle" font-size="11" font-family="Liberation Sans, sans-serif" fill="#1c1c1c">14</text>
<text x="226.5" y="390.5" text-anchor="middle" font-size="11" font-family="Liberation Sans, sans-serif" fill="#1c1c1c">15</text>
<text x="242.1" y="390.5" text-anchor="middle" font-size="11" font-family="Liberation Sans, sans-serif" fill="#1c1c1c">16</text>
<text x="257.7" y="390.5" text-anchor="middle" font-size="11" font-family="Liberation Sans, sans-serif" fill="#1c1c1c">17</text>
<text x="273.3" y="390.5" text-anchor="middle" font-size="11" font-family="Liberation Sans, sans-serif" fill="#1c1c1c">18</text>
<text x="288.8" y="390.5" text-anchor="middle" font-size="11" font-family="Liberation Sans, sans-serif" fill="#1c1c1c">19</text>
<text x="304.4" y="390.5" text-anchor="middle" font-size="11" font-family="Liberation Sans, sans-serif" fill="#1c1c1c">20</text>
<text x="188.8" y="401.8" text-anchor="middle" font-size="11" font-family="Liberation Sans, sans-serif" fill="#1c1c1c">DPI</text>
<clipPath id="clipC"><rect x="63.0" y="286.1" width="249.2" height="86.9"/></clipPath>
<polyline clip-path="url(#clipC)" points="70.8,373.0 86.4,373.0 101.9,349.5 117.5,349.5 133.1,325.2 148.7,319.1 164.2,314.8 179.8,310.4 195.4,310.4 211.0,310.4 226.5,304.3 242.1,299.1 257.7,300.9 273.3,299.1 288.8,294.8 304.4,291.3" fill="none" stroke="#2a87cb" stroke-width="4.2" stroke-linejoin="round" stroke-linecap="round"/>
<path d="M70.8 367.7L75.7 373.0L70.8 378.3L65.9 373.0Z" fill="url(#g_blue)" stroke="#2576bc" stroke-width="0.9"/>
<path d="M86.4 367.7L91.2 373.0L86.4 378.3L81.5 373.0Z" fill="url(#g_blue)" stroke="#2576bc" stroke-width="0.9"/>
<path d="M101.9 344.2L106.8 349.5L101.9 354.8L97.1 349.5Z" fill="url(#g_blue)" stroke="#2576bc" stroke-width="0.9"/>
<path d="M117.5 344.2L122.4 349.5L117.5 354.8L112.6 349.5Z" fill="url(#g_blue)" stroke="#2576bc" stroke-width="0.9"/>
<path d="M133.1 319.9L138.0 325.2L133.1 330.5L128.2 325.2Z" fill="url(#g_blue)" stroke="#2576bc" stroke-width="0.9"/>
<path d="M148.7 313.8L153.5 319.1L148.7 324.4L143.8 319.1Z" fill="url(#g_blue)" stroke="#2576bc" stroke-width="0.9"/>
<path d="M164.2 309.5L169.1 314.8L164.2 320.1L159.4 314.8Z" fill="url(#g_blue)" stroke="#2576bc" stroke-width="0.9"/>
<path d="M179.8 305.1L184.7 310.4L179.8 315.7L174.9 310.4Z" fill="url(#g_blue)" stroke="#2576bc" stroke-width="0.9"/>
<path d="M195.4 305.1L200.3 310.4L195.4 315.7L190.5 310.4Z" fill="url(#g_blue)" stroke="#2576bc" stroke-width="0.9"/>
<path d="M211.0 305.1L215.8 310.4L211.0 315.7L206.1 310.4Z" fill="url(#g_blue)" stroke="#2576bc" stroke-width="0.9"/>
<path d="M226.5 299.0L231.4 304.3L226.5 309.6L221.7 304.3Z" fill="url(#g_blue)" stroke="#2576bc" stroke-width="0.9"/>
<path d="M242.1 293.8L247.0 299.1L242.1 304.4L237.2 299.1Z" fill="url(#g_blue)" stroke="#2576bc" stroke-width="0.9"/>
<path d="M257.7 295.6L262.6 300.9L257.7 306.2L252.8 300.9Z" fill="url(#g_blue)" stroke="#2576bc" stroke-width="0.9"/>
<path d="M273.3 293.8L278.1 299.1L273.3 304.4L268.4 299.1Z" fill="url(#g_blue)" stroke="#2576bc" stroke-width="0.9"/>
<path d="M288.8 289.5L293.7 294.8L288.8 300.1L284.0 294.8Z" fill="url(#g_blue)" stroke="#2576bc" stroke-width="0.9"/>
<path d="M304.4 286.0L309.3 291.3L304.4 296.6L299.5 291.3Z" fill="url(#g_blue)" stroke="#2576bc" stroke-width="0.9"/>
<polyline clip-path="url(#clipC)" points="70.8,373.0 86.4,373.0 101.9,373.0 117.5,373.0 133.1,373.0 148.7,373.0 164.2,373.0 179.8,373.0 195.4,373.0 211.0,373.0 226.5,373.0 242.1,373.0 257.7,364.3 273.3,359.1 288.8,359.1 304.4,359.1" fill="none" stroke="#e8544d" stroke-width="4.2" stroke-linejoin="round" stroke-linecap="round"/>
<rect x="65.6" y="367.8" width="10.4" height="10.4" rx="1" fill="url(#g_red)" stroke="#e04d47" stroke-width="0.8"/>
<rect x="81.2" y="367.8" width="10.4" height="10.4" rx="1" fill="url(#g_red)" stroke="#e04d47" stroke-width="0.8"/>
<rect x="96.7" y="367.8" width="10.4" height="10.4" rx="1" fill="url(#g_red)" stroke="#e04d47" stroke-width="0.8"/>
<rect x="112.3" y="367.8" width="10.4" height="10.4" rx="1" fill="url(#g_red)" stroke="#e04d47" stroke-width="0.8"/>
<rect x="127.9" y="367.8" width="10.4" height="10.4" rx="1" fill="url(#g_red)" stroke="#e04d47" stroke-width="0.8"/>
<rect x="143.5" y="367.8" width="10.4" height="10.4" rx="1" fill="url(#g_red)" stroke="#e04d47" stroke-width="0.8"/>
<rect x="159.0" y="367.8" width="10.4" height="10.4" rx="1" fill="url(#g_red)" stroke="#e04d47" stroke-width="0.8"/>
<rect x="174.6" y="367.8" width="10.4" height="10.4" rx="1" fill="url(#g_red)" stroke="#e04d47" stroke-width="0.8"/>
<rect x="190.2" y="367.8" width="10.4" height="10.4" rx="1" fill="url(#g_red)" stroke="#e04d47" stroke-width="0.8"/>
<rect x="205.8" y="367.8" width="10.4" height="10.4" rx="1" fill="url(#g_red)" stroke="#e04d47" stroke-width="0.8"/>
<rect x="221.3" y="367.8" width="10.4" height="10.4" rx="1" fill="url(#g_red)" stroke="#e04d47" stroke-width="0.8"/>
<rect x="236.9" y="367.8" width="10.4" height="10.4" rx="1" fill="url(#g_red)" stroke="#e04d47" stroke-width="0.8"/>
<rect x="252.5" y="359.1" width="10.4" height="10.4" rx="1" fill="url(#g_red)" stroke="#e04d47" stroke-width="0.8"/>
<rect x="268.1" y="353.9" width="10.4" height="10.4" rx="1" fill="url(#g_red)" stroke="#e04d47" stroke-width="0.8"/>
<rect x="283.6" y="353.9" width="10.4" height="10.4" rx="1" fill="url(#g_red)" stroke="#e04d47" stroke-width="0.8"/>
<rect x="299.2" y="353.9" width="10.4" height="10.4" rx="1" fill="url(#g_red)" stroke="#e04d47" stroke-width="0.8"/>
<polyline clip-path="url(#clipC)" points="70.8,373.0 86.4,373.0 101.9,373.0 117.5,366.9 133.1,361.7 148.7,355.6 164.2,355.6 179.8,355.6 195.4,355.6 211.0,344.3 226.5,338.2 242.1,338.2 257.7,338.2 273.3,338.2 288.8,338.2 304.4,338.2" fill="none" stroke="#8fc453" stroke-width="4.2" stroke-linejoin="round" stroke-linecap="round"/>
<path d="M70.8 367.5L75.5 377.7L66.1 377.7Z" fill="url(#g_green)" stroke="#80b847" stroke-width="0.8"/>
<path d="M86.4 367.5L91.0 377.7L81.7 377.7Z" fill="url(#g_green)" stroke="#80b847" stroke-width="0.8"/>
<path d="M101.9 367.5L106.6 377.7L97.3 377.7Z" fill="url(#g_green)" stroke="#80b847" stroke-width="0.8"/>
<path d="M117.5 361.4L122.2 371.6L112.8 371.6Z" fill="url(#g_green)" stroke="#80b847" stroke-width="0.8"/>
<path d="M133.1 356.2L137.8 366.4L128.4 366.4Z" fill="url(#g_green)" stroke="#80b847" stroke-width="0.8"/>
<path d="M148.7 350.1L153.3 360.3L144.0 360.3Z" fill="url(#g_green)" stroke="#80b847" stroke-width="0.8"/>
<path d="M164.2 350.1L168.9 360.3L159.6 360.3Z" fill="url(#g_green)" stroke="#80b847" stroke-width="0.8"/>
<path d="M179.8 350.1L184.5 360.3L175.1 360.3Z" fill="url(#g_green)" stroke="#80b847" stroke-width="0.8"/>
<path d="M195.4 350.1L200.1 360.3L190.7 360.3Z" fill="url(#g_green)" stroke="#80b847" stroke-width="0.8"/>
<path d="M211.0 338.8L215.6 349.0L206.3 349.0Z" fill="url(#g_green)" stroke="#80b847" stroke-width="0.8"/>
<path d="M226.5 332.7L231.2 342.9L221.9 342.9Z" fill="url(#g_green)" stroke="#80b847" stroke-width="0.8"/>
<path d="M242.1 332.7L246.8 342.9L237.4 342.9Z" fill="url(#g_green)" stroke="#80b847" stroke-width="0.8"/>
<path d="M257.7 332.7L262.4 342.9L253.0 342.9Z" fill="url(#g_green)" stroke="#80b847" stroke-width="0.8"/>
<path d="M273.3 332.7L277.9 342.9L268.6 342.9Z" fill="url(#g_green)" stroke="#80b847" stroke-width="0.8"/>
<path d="M288.8 332.7L293.5 342.9L284.2 342.9Z" fill="url(#g_green)" stroke="#80b847" stroke-width="0.8"/>
<path d="M304.4 332.7L309.1 342.9L299.7 342.9Z" fill="url(#g_green)" stroke="#80b847" stroke-width="0.8"/>
<polyline clip-path="url(#clipC)" points="70.8,373.0 86.4,366.9 101.9,366.9 117.5,361.7 133.1,338.2 148.7,332.2 164.2,326.1 179.8,322.6 195.4,309.6 211.0,309.6 226.5,309.6 242.1,309.6 257.7,309.6 273.3,303.5 288.8,303.5 304.4,303.5" fill="none" stroke="#8e64b6" stroke-width="4.2" stroke-linejoin="round" stroke-linecap="round"/>
<path d="M65.5 367.7L76.1 378.3M76.1 367.7L65.5 378.3" stroke="#9e86c6" stroke-width="1.05" fill="none"/>
<path d="M81.1 361.6L91.7 372.2M91.7 361.6L81.1 372.2" stroke="#9e86c6" stroke-width="1.05" fill="none"/>
<path d="M96.6 361.6L107.2 372.2M107.2 361.6L96.6 372.2" stroke="#9e86c6" stroke-width="1.05" fill="none"/>
<path d="M112.2 356.4L122.8 367.0M122.8 356.4L112.2 367.0" stroke="#9e86c6" stroke-width="1.05" fill="none"/>
<path d="M127.8 332.9L138.4 343.5M138.4 332.9L127.8 343.5" stroke="#9e86c6" stroke-width="1.05" fill="none"/>
<path d="M143.4 326.9L154.0 337.5M154.0 326.9L143.4 337.5" stroke="#9e86c6" stroke-width="1.05" fill="none"/>
<path d="M158.9 320.8L169.5 331.4M169.5 320.8L158.9 331.4" stroke="#9e86c6" stroke-width="1.05" fill="none"/>
<path d="M174.5 317.3L185.1 327.9M185.1 317.3L174.5 327.9" stroke="#9e86c6" stroke-width="1.05" fill="none"/>
<path d="M190.1 304.3L200.7 314.9M200.7 304.3L190.1 314.9" stroke="#9e86c6" stroke-width="1.05" fill="none"/>
<path d="M205.7 304.3L216.3 314.9M216.3 304.3L205.7 314.9" stroke="#9e86c6" stroke-width="1.05" fill="none"/>
<path d="M221.2 304.3L231.8 314.9M231.8 304.3L221.2 314.9" stroke="#9e86c6" stroke-width="1.05" fill="none"/>
<path d="M236.8 304.3L247.4 314.9M247.4 304.3L236.8 314.9" stroke="#9e86c6" stroke-width="1.05" fill="none"/>
<path d="M252.4 304.3L263.0 314.9M263.0 304.3L252.4 314.9" stroke="#9e86c6" stroke-width="1.05" fill="none"/>
<path d="M268.0 298.2L278.6 308.8M278.6 298.2L268.0 308.8" stroke="#9e86c6" stroke-width="1.05" fill="none"/>
<path d="M283.5 298.2L294.1 308.8M294.1 298.2L283.5 308.8" stroke="#9e86c6" stroke-width="1.05" fill="none"/>
<path d="M299.1 298.2L309.7 308.8M309.7 298.2L299.1 308.8" stroke="#9e86c6" stroke-width="1.05" fill="none"/>
<polyline clip-path="url(#clipC)" points="70.8,373.0 86.4,373.0 101.9,373.0 117.5,373.0 133.1,366.9 148.7,366.9 164.2,361.7 179.8,355.6 195.4,355.6 211.0,355.6 226.5,355.6 242.1,355.6 257.7,349.5 273.3,349.5 288.8,349.5 304.4,349.5" fill="none" stroke="#14adcd" stroke-width="4.2" stroke-linejoin="round" stroke-linecap="round"/>
<path d="M66.5 368.8L75.0 377.2M75.0 368.8L66.5 377.2M70.8 368.0L70.8 378.0" stroke="#17acca" stroke-width="1.1" fill="none"/>
<path d="M82.1 368.8L90.6 377.2M90.6 368.8L82.1 377.2M86.4 368.0L86.4 378.0" stroke="#17acca" stroke-width="1.1" fill="none"/>
<path d="M97.7 368.8L106.2 377.2M106.2 368.8L97.7 377.2M101.9 368.0L101.9 378.0" stroke="#17acca" stroke-width="1.1" fill="none"/>
<path d="M113.3 368.8L121.8 377.2M121.8 368.8L113.3 377.2M117.5 368.0L117.5 378.0" stroke="#17acca" stroke-width="1.1" fill="none"/>
<path d="M128.8 362.7L137.3 371.2M137.3 362.7L128.8 371.2M133.1 361.9L133.1 371.9" stroke="#17acca" stroke-width="1.1" fill="none"/>
<path d="M144.4 362.7L152.9 371.2M152.9 362.7L144.4 371.2M148.7 361.9L148.7 371.9" stroke="#17acca" stroke-width="1.1" fill="none"/>
<path d="M160.0 357.5L168.5 366.0M168.5 357.5L160.0 366.0M164.2 356.7L164.2 366.7" stroke="#17acca" stroke-width="1.1" fill="none"/>
<path d="M175.6 351.4L184.1 359.9M184.1 351.4L175.6 359.9M179.8 350.6L179.8 360.6" stroke="#17acca" stroke-width="1.1" fill="none"/>
<path d="M191.1 351.4L199.6 359.9M199.6 351.4L191.1 359.9M195.4 350.6L195.4 360.6" stroke="#17acca" stroke-width="1.1" fill="none"/>
<path d="M206.7 351.4L215.2 359.9M215.2 351.4L206.7 359.9M211.0 350.6L211.0 360.6" stroke="#17acca" stroke-width="1.1" fill="none"/>
<path d="M222.3 351.4L230.8 359.9M230.8 351.4L222.3 359.9M226.5 350.6L226.5 360.6" stroke="#17acca" stroke-width="1.1" fill="none"/>
<path d="M237.9 351.4L246.4 359.9M246.4 351.4L237.9 359.9M242.1 350.6L242.1 360.6" stroke="#17acca" stroke-width="1.1" fill="none"/>
<path d="M253.4 345.3L261.9 353.8M261.9 345.3L253.4 353.8M257.7 344.5L257.7 354.5" stroke="#17acca" stroke-width="1.1" fill="none"/>
<path d="M269.0 345.3L277.5 353.8M277.5 345.3L269.0 353.8M273.3 344.5L273.3 354.5" stroke="#17acca" stroke-width="1.1" fill="none"/>
<path d="M284.6 345.3L293.1 353.8M293.1 345.3L284.6 353.8M288.8 344.5L288.8 354.5" stroke="#17acca" stroke-width="1.1" fill="none"/>
<path d="M300.2 345.3L308.7 353.8M308.7 345.3L300.2 353.8M304.4 344.5L304.4 354.5" stroke="#17acca" stroke-width="1.1" fill="none"/>
<line x1="321" y1="287.1" x2="340.8" y2="287.1" stroke="#2a87cb" stroke-width="4.2" stroke-linecap="round"/>
<path d="M330.9 283.4L334.3 287.1L330.9 290.8L327.5 287.1Z" fill="url(#g_blue)" stroke="#2576bc" stroke-width="0.9"/>
<text x="343.6" y="291.6" font-size="11.15" font-family="Liberation Sans, sans-serif" fill="#111">Vec</text>
<line x1="321" y1="305.4" x2="340.8" y2="305.4" stroke="#e8544d" stroke-width="4.2" stroke-linecap="round"/>
<rect x="327.7" y="302.2" width="6.4" height="6.4" rx="1" fill="url(#g_red)" stroke="#e04d47" stroke-width="0.8"/>
<text x="343.6" y="309.9" font-size="11.15" font-family="Liberation Sans, sans-serif" fill="#111">P4PAS(0.5)</text>
<line x1="321" y1="323.7" x2="340.8" y2="323.7" stroke="#8fc453" stroke-width="4.2" stroke-linecap="round"/>
<path d="M330.9 319.8L334.2 327.0L327.6 327.0Z" fill="url(#g_green)" stroke="#80b847" stroke-width="0.8"/>
<text x="343.6" y="328.2" font-size="11.15" font-family="Liberation Sans, sans-serif" fill="#111">P4PAS(0.25)</text>
<line x1="321" y1="342.0" x2="340.8" y2="342.0" stroke="#8e64b6" stroke-width="4.2" stroke-linecap="round"/>
<path d="M327.2 338.3L334.6 345.7M334.6 338.3L327.2 345.7" stroke="#9e86c6" stroke-width="1.05" fill="none"/>
<text x="343.6" y="346.5" font-size="11.15" font-family="Liberation Sans, sans-serif" fill="#111">P4PAS(0.1)</text>
<line x1="321" y1="360.3" x2="340.8" y2="360.3" stroke="#14adcd" stroke-width="4.2" stroke-linecap="round"/>
<path d="M327.9 357.3L333.9 363.3M333.9 357.3L327.9 363.3M330.9 356.8L330.9 363.8" stroke="#17acca" stroke-width="1.1" fill="none"/>
<text x="343.6" y="364.8" font-size="11.15" font-family="Liberation Sans, sans-serif" fill="#111">P1RY</text>
<text x="8.0" y="412.3" font-size="11" font-family="Liberation Sans, sans-serif">D</text>
<g transform="translate(16.9,474.4) rotate(-90)"><text x="0" y="0" text-anchor="middle" font-size="11" font-weight="bold" font-family="Liberation Sans, sans-serif">% Plants with</text></g>
<g transform="translate(30.2,474.4) rotate(-90)"><text x="0" y="0" text-anchor="middle" font-size="11" font-weight="bold" font-family="Liberation Sans, sans-serif">Systemic Silencing</text></g>
<line x1="63.5" y1="513.40" x2="315.4" y2="513.40" stroke="#bdbdbd" stroke-width="1"/>
<text x="54.5" y="518.80" text-anchor="end" font-size="11" font-family="Liberation Sans, sans-serif" fill="#1c1c1c">0</text>
<line x1="63.5" y1="494.90" x2="315.4" y2="494.90" stroke="#bdbdbd" stroke-width="1"/>
<text x="54.5" y="500.30" text-anchor="end" font-size="11" font-family="Liberation Sans, sans-serif" fill="#1c1c1c">20</text>
<line x1="63.5" y1="476.40" x2="315.4" y2="476.40" stroke="#bdbdbd" stroke-width="1"/>
<text x="54.5" y="481.80" text-anchor="end" font-size="11" font-family="Liberation Sans, sans-serif" fill="#1c1c1c">40</text>
<line x1="63.5" y1="457.90" x2="315.4" y2="457.90" stroke="#bdbdbd" stroke-width="1"/>
<text x="54.5" y="463.30" text-anchor="end" font-size="11" font-family="Liberation Sans, sans-serif" fill="#1c1c1c">60</text>
<line x1="63.5" y1="439.40" x2="315.4" y2="439.40" stroke="#bdbdbd" stroke-width="1"/>
<text x="54.5" y="444.80" text-anchor="end" font-size="11" font-family="Liberation Sans, sans-serif" fill="#1c1c1c">80</text>
<line x1="63.5" y1="420.90" x2="315.4" y2="420.90" stroke="#bdbdbd" stroke-width="1"/>
<text x="54.5" y="426.30" text-anchor="end" font-size="11" font-family="Liberation Sans, sans-serif" fill="#1c1c1c">100</text>
<line x1="63.5" y1="420.90" x2="63.5" y2="513.40" stroke="#bdbdbd" stroke-width="1"/>
<text x="71.4" y="533.0" text-anchor="middle" font-size="11" font-family="Liberation Sans, sans-serif" fill="#1c1c1c">5</text>
<text x="87.1" y="533.0" text-anchor="middle" font-size="11" font-family="Liberation Sans, sans-serif" fill="#1c1c1c">6</text>
<text x="102.9" y="533.0" text-anchor="middle" font-size="11" font-family="Liberation Sans, sans-serif" fill="#1c1c1c">7</text>
<text x="118.6" y="533.0" text-anchor="middle" font-size="11" font-family="Liberation Sans, sans-serif" fill="#1c1c1c">8</text>
<text x="134.3" y="533.0" text-anchor="middle" font-size="11" font-family="Liberation Sans, sans-serif" fill="#1c1c1c">9</text>
<text x="150.1" y="533.0" text-anchor="middle" font-size="11" font-family="Liberation Sans, sans-serif" fill="#1c1c1c">10</text>
<text x="165.8" y="533.0" text-anchor="middle" font-size="11" font-family="Liberation Sans, sans-serif" fill="#1c1c1c">11</text>
<text x="181.6" y="533.0" text-anchor="middle" font-size="11" font-family="Liberation Sans, sans-serif" fill="#1c1c1c">12</text>
<text x="197.3" y="533.0" text-anchor="middle" font-size="11" font-family="Liberation Sans, sans-serif" fill="#1c1c1c">13</text>
<text x="213.1" y="533.0" text-anchor="middle" font-size="11" font-family="Liberation Sans, sans-serif" fill="#1c1c1c">14</text>
<text x="228.8" y="533.0" text-anchor="middle" font-size="11" font-family="Liberation Sans, sans-serif" fill="#1c1c1c">15</text>
<text x="244.6" y="533.0" text-anchor="middle" font-size="11" font-family="Liberation Sans, sans-serif" fill="#1c1c1c">16</text>
<text x="260.3" y="533.0" text-anchor="middle" font-size="11" font-family="Liberation Sans, sans-serif" fill="#1c1c1c">17</text>
<text x="276.0" y="533.0" text-anchor="middle" font-size="11" font-family="Liberation Sans, sans-serif" fill="#1c1c1c">18</text>
<text x="291.8" y="533.0" text-anchor="middle" font-size="11" font-family="Liberation Sans, sans-serif" fill="#1c1c1c">19</text>
<text x="307.5" y="533.0" text-anchor="middle" font-size="11" font-family="Liberation Sans, sans-serif" fill="#1c1c1c">20</text>
<text x="188.6" y="545.3" text-anchor="middle" font-size="11" font-family="Liberation Sans, sans-serif" fill="#1c1c1c">DPI</text>
<clipPath id="clipD"><rect x="63.5" y="420.9" width="251.9" height="92.5"/></clipPath>
<polyline clip-path="url(#clipD)" points="71.4,513.4 87.1,513.4 102.9,488.4 118.6,488.4 134.3,461.6 150.1,457.0 165.8,452.3 181.6,447.7 197.3,445.9 213.1,445.9 228.8,440.3 244.6,437.5 260.3,437.5 276.0,437.5 291.8,432.9 307.5,428.3" fill="none" stroke="#2a87cb" stroke-width="4.2" stroke-linejoin="round" stroke-linecap="round"/>
<path d="M71.4 508.1L76.2 513.4L71.4 518.7L66.5 513.4Z" fill="url(#g_blue)" stroke="#2576bc" stroke-width="0.9"/>
<path d="M87.1 508.1L92.0 513.4L87.1 518.7L82.2 513.4Z" fill="url(#g_blue)" stroke="#2576bc" stroke-width="0.9"/>
<path d="M102.9 483.1L107.7 488.4L102.9 493.7L98.0 488.4Z" fill="url(#g_blue)" stroke="#2576bc" stroke-width="0.9"/>
<path d="M118.6 483.1L123.5 488.4L118.6 493.7L113.7 488.4Z" fill="url(#g_blue)" stroke="#2576bc" stroke-width="0.9"/>
<path d="M134.3 456.3L139.2 461.6L134.3 466.9L129.5 461.6Z" fill="url(#g_blue)" stroke="#2576bc" stroke-width="0.9"/>
<path d="M150.1 451.7L155.0 457.0L150.1 462.3L145.2 457.0Z" fill="url(#g_blue)" stroke="#2576bc" stroke-width="0.9"/>
<path d="M165.8 447.0L170.7 452.3L165.8 457.6L161.0 452.3Z" fill="url(#g_blue)" stroke="#2576bc" stroke-width="0.9"/>
<path d="M181.6 442.4L186.5 447.7L181.6 453.0L176.7 447.7Z" fill="url(#g_blue)" stroke="#2576bc" stroke-width="0.9"/>
<path d="M197.3 440.6L202.2 445.9L197.3 451.2L192.4 445.9Z" fill="url(#g_blue)" stroke="#2576bc" stroke-width="0.9"/>
<path d="M213.1 440.6L217.9 445.9L213.1 451.2L208.2 445.9Z" fill="url(#g_blue)" stroke="#2576bc" stroke-width="0.9"/>
<path d="M228.8 435.0L233.7 440.3L228.8 445.6L223.9 440.3Z" fill="url(#g_blue)" stroke="#2576bc" stroke-width="0.9"/>
<path d="M244.6 432.2L249.4 437.5L244.6 442.8L239.7 437.5Z" fill="url(#g_blue)" stroke="#2576bc" stroke-width="0.9"/>
<path d="M260.3 432.2L265.2 437.5L260.3 442.8L255.4 437.5Z" fill="url(#g_blue)" stroke="#2576bc" stroke-width="0.9"/>
<path d="M276.0 432.2L280.9 437.5L276.0 442.8L271.2 437.5Z" fill="url(#g_blue)" stroke="#2576bc" stroke-width="0.9"/>
<path d="M291.8 427.6L296.7 432.9L291.8 438.2L286.9 432.9Z" fill="url(#g_blue)" stroke="#2576bc" stroke-width="0.9"/>
<path d="M307.5 423.0L312.4 428.3L307.5 433.6L302.7 428.3Z" fill="url(#g_blue)" stroke="#2576bc" stroke-width="0.9"/>
<polyline clip-path="url(#clipD)" points="71.4,513.4 87.1,506.9 102.9,482.9 118.6,451.4 134.3,445.9 150.1,427.4 165.8,427.4 181.6,427.4 197.3,420.9 213.1,420.9 228.8,420.9 244.6,420.9 260.3,420.9 276.0,420.9 291.8,420.9 307.5,420.9" fill="none" stroke="#e8544d" stroke-width="4.2" stroke-linejoin="round" stroke-linecap="round"/>
<rect x="66.2" y="508.2" width="10.4" height="10.4" rx="1" fill="url(#g_red)" stroke="#e04d47" stroke-width="0.8"/>
<rect x="81.9" y="501.7" width="10.4" height="10.4" rx="1" fill="url(#g_red)" stroke="#e04d47" stroke-width="0.8"/>
<rect x="97.7" y="477.7" width="10.4" height="10.4" rx="1" fill="url(#g_red)" stroke="#e04d47" stroke-width="0.8"/>
<rect x="113.4" y="446.2" width="10.4" height="10.4" rx="1" fill="url(#g_red)" stroke="#e04d47" stroke-width="0.8"/>
<rect x="129.1" y="440.7" width="10.4" height="10.4" rx="1" fill="url(#g_red)" stroke="#e04d47" stroke-width="0.8"/>
<rect x="144.9" y="422.2" width="10.4" height="10.4" rx="1" fill="url(#g_red)" stroke="#e04d47" stroke-width="0.8"/>
<rect x="160.6" y="422.2" width="10.4" height="10.4" rx="1" fill="url(#g_red)" stroke="#e04d47" stroke-width="0.8"/>
<rect x="176.4" y="422.2" width="10.4" height="10.4" rx="1" fill="url(#g_red)" stroke="#e04d47" stroke-width="0.8"/>
<rect x="192.1" y="415.7" width="10.4" height="10.4" rx="1" fill="url(#g_red)" stroke="#e04d47" stroke-width="0.8"/>
<rect x="207.9" y="415.7" width="10.4" height="10.4" rx="1" fill="url(#g_red)" stroke="#e04d47" stroke-width="0.8"/>
<rect x="223.6" y="415.7" width="10.4" height="10.4" rx="1" fill="url(#g_red)" stroke="#e04d47" stroke-width="0.8"/>
<rect x="239.4" y="415.7" width="10.4" height="10.4" rx="1" fill="url(#g_red)" stroke="#e04d47" stroke-width="0.8"/>
<rect x="255.1" y="415.7" width="10.4" height="10.4" rx="1" fill="url(#g_red)" stroke="#e04d47" stroke-width="0.8"/>
<rect x="270.8" y="415.7" width="10.4" height="10.4" rx="1" fill="url(#g_red)" stroke="#e04d47" stroke-width="0.8"/>
<rect x="286.6" y="415.7" width="10.4" height="10.4" rx="1" fill="url(#g_red)" stroke="#e04d47" stroke-width="0.8"/>
<rect x="302.3" y="415.7" width="10.4" height="10.4" rx="1" fill="url(#g_red)" stroke="#e04d47" stroke-width="0.8"/>
<polyline clip-path="url(#clipD)" points="71.4,513.4 87.1,513.4 102.9,494.9 118.6,469.9 134.3,445.9 150.1,445.9 165.8,439.4 181.6,432.9 197.3,432.9 213.1,432.9 228.8,427.4 244.6,427.4 260.3,427.4 276.0,427.4 291.8,430.1 307.5,430.1" fill="none" stroke="#8fc453" stroke-width="4.2" stroke-linejoin="round" stroke-linecap="round"/>
<path d="M71.4 507.9L76.0 518.1L66.7 518.1Z" fill="url(#g_green)" stroke="#80b847" stroke-width="0.8"/>
<path d="M87.1 507.9L91.8 518.1L82.4 518.1Z" fill="url(#g_green)" stroke="#80b847" stroke-width="0.8"/>
<path d="M102.9 489.4L107.5 499.6L98.2 499.6Z" fill="url(#g_green)" stroke="#80b847" stroke-width="0.8"/>
<path d="M118.6 464.4L123.3 474.6L113.9 474.6Z" fill="url(#g_green)" stroke="#80b847" stroke-width="0.8"/>
<path d="M134.3 440.4L139.0 450.6L129.7 450.6Z" fill="url(#g_green)" stroke="#80b847" stroke-width="0.8"/>
<path d="M150.1 440.4L154.8 450.6L145.4 450.6Z" fill="url(#g_green)" stroke="#80b847" stroke-width="0.8"/>
<path d="M165.8 433.9L170.5 444.1L161.2 444.1Z" fill="url(#g_green)" stroke="#80b847" stroke-width="0.8"/>
<path d="M181.6 427.4L186.3 437.6L176.9 437.6Z" fill="url(#g_green)" stroke="#80b847" stroke-width="0.8"/>
<path d="M197.3 427.4L202.0 437.6L192.6 437.6Z" fill="url(#g_green)" stroke="#80b847" stroke-width="0.8"/>
<path d="M213.1 427.4L217.7 437.6L208.4 437.6Z" fill="url(#g_green)" stroke="#80b847" stroke-width="0.8"/>
<path d="M228.8 421.9L233.5 432.1L224.1 432.1Z" fill="url(#g_green)" stroke="#80b847" stroke-width="0.8"/>
<path d="M244.6 421.9L249.2 432.1L239.9 432.1Z" fill="url(#g_green)" stroke="#80b847" stroke-width="0.8"/>
<path d="M260.3 421.9L265.0 432.1L255.6 432.1Z" fill="url(#g_green)" stroke="#80b847" stroke-width="0.8"/>
<path d="M276.0 421.9L280.7 432.1L271.4 432.1Z" fill="url(#g_green)" stroke="#80b847" stroke-width="0.8"/>
<path d="M291.8 424.6L296.5 434.8L287.1 434.8Z" fill="url(#g_green)" stroke="#80b847" stroke-width="0.8"/>
<path d="M307.5 424.6L312.2 434.8L302.9 434.8Z" fill="url(#g_green)" stroke="#80b847" stroke-width="0.8"/>
<polyline clip-path="url(#clipD)" points="71.4,513.4 87.1,509.7 102.9,489.3 118.6,461.6 134.3,445.9 150.1,445.9 165.8,445.9 181.6,445.9 197.3,439.4 213.1,439.4 228.8,432.9 244.6,432.9 260.3,432.9 276.0,432.9 291.8,430.1 307.5,428.3" fill="none" stroke="#8e64b6" stroke-width="4.2" stroke-linejoin="round" stroke-linecap="round"/>
<path d="M66.1 508.1L76.7 518.7M76.7 508.1L66.1 518.7" stroke="#9e86c6" stroke-width="1.05" fill="none"/>
<path d="M81.8 504.4L92.4 515.0M92.4 504.4L81.8 515.0" stroke="#9e86c6" stroke-width="1.05" fill="none"/>
<path d="M97.6 484.0L108.2 494.6M108.2 484.0L97.6 494.6" stroke="#9e86c6" stroke-width="1.05" fill="none"/>
<path d="M113.3 456.3L123.9 466.9M123.9 456.3L113.3 466.9" stroke="#9e86c6" stroke-width="1.05" fill="none"/>
<path d="M129.0 440.6L139.6 451.2M139.6 440.6L129.0 451.2" stroke="#9e86c6" stroke-width="1.05" fill="none"/>
<path d="M144.8 440.6L155.4 451.2M155.4 440.6L144.8 451.2" stroke="#9e86c6" stroke-width="1.05" fill="none"/>
<path d="M160.5 440.6L171.1 451.2M171.1 440.6L160.5 451.2" stroke="#9e86c6" stroke-width="1.05" fill="none"/>
<path d="M176.3 440.6L186.9 451.2M186.9 440.6L176.3 451.2" stroke="#9e86c6" stroke-width="1.05" fill="none"/>
<path d="M192.0 434.1L202.6 444.7M202.6 434.1L192.0 444.7" stroke="#9e86c6" stroke-width="1.05" fill="none"/>
<path d="M207.8 434.1L218.4 444.7M218.4 434.1L207.8 444.7" stroke="#9e86c6" stroke-width="1.05" fill="none"/>
<path d="M223.5 427.6L234.1 438.2M234.1 427.6L223.5 438.2" stroke="#9e86c6" stroke-width="1.05" fill="none"/>
<path d="M239.3 427.6L249.9 438.2M249.9 427.6L239.3 438.2" stroke="#9e86c6" stroke-width="1.05" fill="none"/>
<path d="M255.0 427.6L265.6 438.2M265.6 427.6L255.0 438.2" stroke="#9e86c6" stroke-width="1.05" fill="none"/>
<path d="M270.7 427.6L281.3 438.2M281.3 427.6L270.7 438.2" stroke="#9e86c6" stroke-width="1.05" fill="none"/>
<path d="M286.5 424.8L297.1 435.4M297.1 424.8L286.5 435.4" stroke="#9e86c6" stroke-width="1.05" fill="none"/>
<path d="M302.2 423.0L312.8 433.6M312.8 423.0L302.2 433.6" stroke="#9e86c6" stroke-width="1.05" fill="none"/>
<polyline clip-path="url(#clipD)" points="71.4,513.4 87.1,513.4 102.9,513.4 118.6,513.4 134.3,506.9 150.1,506.9 165.8,501.4 181.6,494.9 197.3,494.9 213.1,494.9 228.8,494.9 244.6,494.9 260.3,489.3 276.0,489.3 291.8,489.3 307.5,489.3" fill="none" stroke="#14adcd" stroke-width="4.2" stroke-linejoin="round" stroke-linecap="round"/>
<path d="M67.1 509.1L75.6 517.6M75.6 509.1L67.1 517.6M71.4 508.4L71.4 518.4" stroke="#17acca" stroke-width="1.1" fill="none"/>
<path d="M82.9 509.1L91.4 517.6M91.4 509.1L82.9 517.6M87.1 508.4L87.1 518.4" stroke="#17acca" stroke-width="1.1" fill="none"/>
<path d="M98.6 509.1L107.1 517.6M107.1 509.1L98.6 517.6M102.9 508.4L102.9 518.4" stroke="#17acca" stroke-width="1.1" fill="none"/>
<path d="M114.4 509.1L122.9 517.6M122.9 509.1L114.4 517.6M118.6 508.4L118.6 518.4" stroke="#17acca" stroke-width="1.1" fill="none"/>
<path d="M130.1 502.7L138.6 511.2M138.6 502.7L130.1 511.2M134.3 501.9L134.3 511.9" stroke="#17acca" stroke-width="1.1" fill="none"/>
<path d="M145.8 502.7L154.3 511.2M154.3 502.7L145.8 511.2M150.1 501.9L150.1 511.9" stroke="#17acca" stroke-width="1.1" fill="none"/>
<path d="M161.6 497.1L170.1 505.6M170.1 497.1L161.6 505.6M165.8 496.4L165.8 506.4" stroke="#17acca" stroke-width="1.1" fill="none"/>
<path d="M177.3 490.6L185.8 499.1M185.8 490.6L177.3 499.1M181.6 489.9L181.6 499.9" stroke="#17acca" stroke-width="1.1" fill="none"/>
<path d="M193.1 490.6L201.6 499.1M201.6 490.6L193.1 499.1M197.3 489.9L197.3 499.9" stroke="#17acca" stroke-width="1.1" fill="none"/>
<path d="M208.8 490.6L217.3 499.1M217.3 490.6L208.8 499.1M213.1 489.9L213.1 499.9" stroke="#17acca" stroke-width="1.1" fill="none"/>
<path d="M224.6 490.6L233.1 499.1M233.1 490.6L224.6 499.1M228.8 489.9L228.8 499.9" stroke="#17acca" stroke-width="1.1" fill="none"/>
<path d="M240.3 490.6L248.8 499.1M248.8 490.6L240.3 499.1M244.6 489.9L244.6 499.9" stroke="#17acca" stroke-width="1.1" fill="none"/>
<path d="M256.0 485.1L264.5 493.6M264.5 485.1L256.0 493.6M260.3 484.3L260.3 494.3" stroke="#17acca" stroke-width="1.1" fill="none"/>
<path d="M271.8 485.1L280.3 493.6M280.3 485.1L271.8 493.6M276.0 484.3L276.0 494.3" stroke="#17acca" stroke-width="1.1" fill="none"/>
<path d="M287.5 485.1L296.0 493.6M296.0 485.1L287.5 493.6M291.8 484.3L291.8 494.3" stroke="#17acca" stroke-width="1.1" fill="none"/>
<path d="M303.3 485.1L311.8 493.6M311.8 485.1L303.3 493.6M307.5 484.3L307.5 494.3" stroke="#17acca" stroke-width="1.1" fill="none"/>
<line x1="328.7" y1="423.0" x2="349" y2="423.0" stroke="#2a87cb" stroke-width="4.2" stroke-linecap="round"/>
<path d="M338.9 419.3L342.3 423.0L338.9 426.7L335.4 423.0Z" fill="url(#g_blue)" stroke="#2576bc" stroke-width="0.9"/>
<text x="351.8" y="427.5" font-size="11.15" font-family="Liberation Sans, sans-serif" fill="#111">Vec</text>
<line x1="328.7" y1="440.4" x2="349" y2="440.4" stroke="#e8544d" stroke-width="4.2" stroke-linecap="round"/>
<rect x="335.6" y="437.2" width="6.4" height="6.4" rx="1" fill="url(#g_red)" stroke="#e04d47" stroke-width="0.8"/>
<text x="351.8" y="444.9" font-size="11.15" font-family="Liberation Sans, sans-serif" fill="#111">P4-PL(0.5)</text>
<line x1="328.7" y1="457.9" x2="349" y2="457.9" stroke="#8fc453" stroke-width="4.2" stroke-linecap="round"/>
<path d="M338.9 454.0L342.1 461.2L335.6 461.2Z" fill="url(#g_green)" stroke="#80b847" stroke-width="0.8"/>
<text x="351.8" y="462.4" font-size="11.15" font-family="Liberation Sans, sans-serif" fill="#111">P4-PL(0.25)</text>
<line x1="328.7" y1="475.4" x2="349" y2="475.4" stroke="#8e64b6" stroke-width="4.2" stroke-linecap="round"/>
<path d="M335.1 471.7L342.6 479.1M342.6 471.7L335.1 479.1" stroke="#9e86c6" stroke-width="1.05" fill="none"/>
<text x="351.8" y="479.9" font-size="11.15" font-family="Liberation Sans, sans-serif" fill="#111">P4-PL (0.1)</text>
<line x1="328.7" y1="492.8" x2="349" y2="492.8" stroke="#14adcd" stroke-width="4.2" stroke-linecap="round"/>
<path d="M335.9 489.8L341.8 495.8M341.8 489.8L335.9 495.8M338.9 489.3L338.9 496.3" stroke="#17acca" stroke-width="1.1" fill="none"/>
<text x="351.8" y="497.3" font-size="11.15" font-family="Liberation Sans, sans-serif" fill="#111">P1RY</text>
</svg></body></html>
